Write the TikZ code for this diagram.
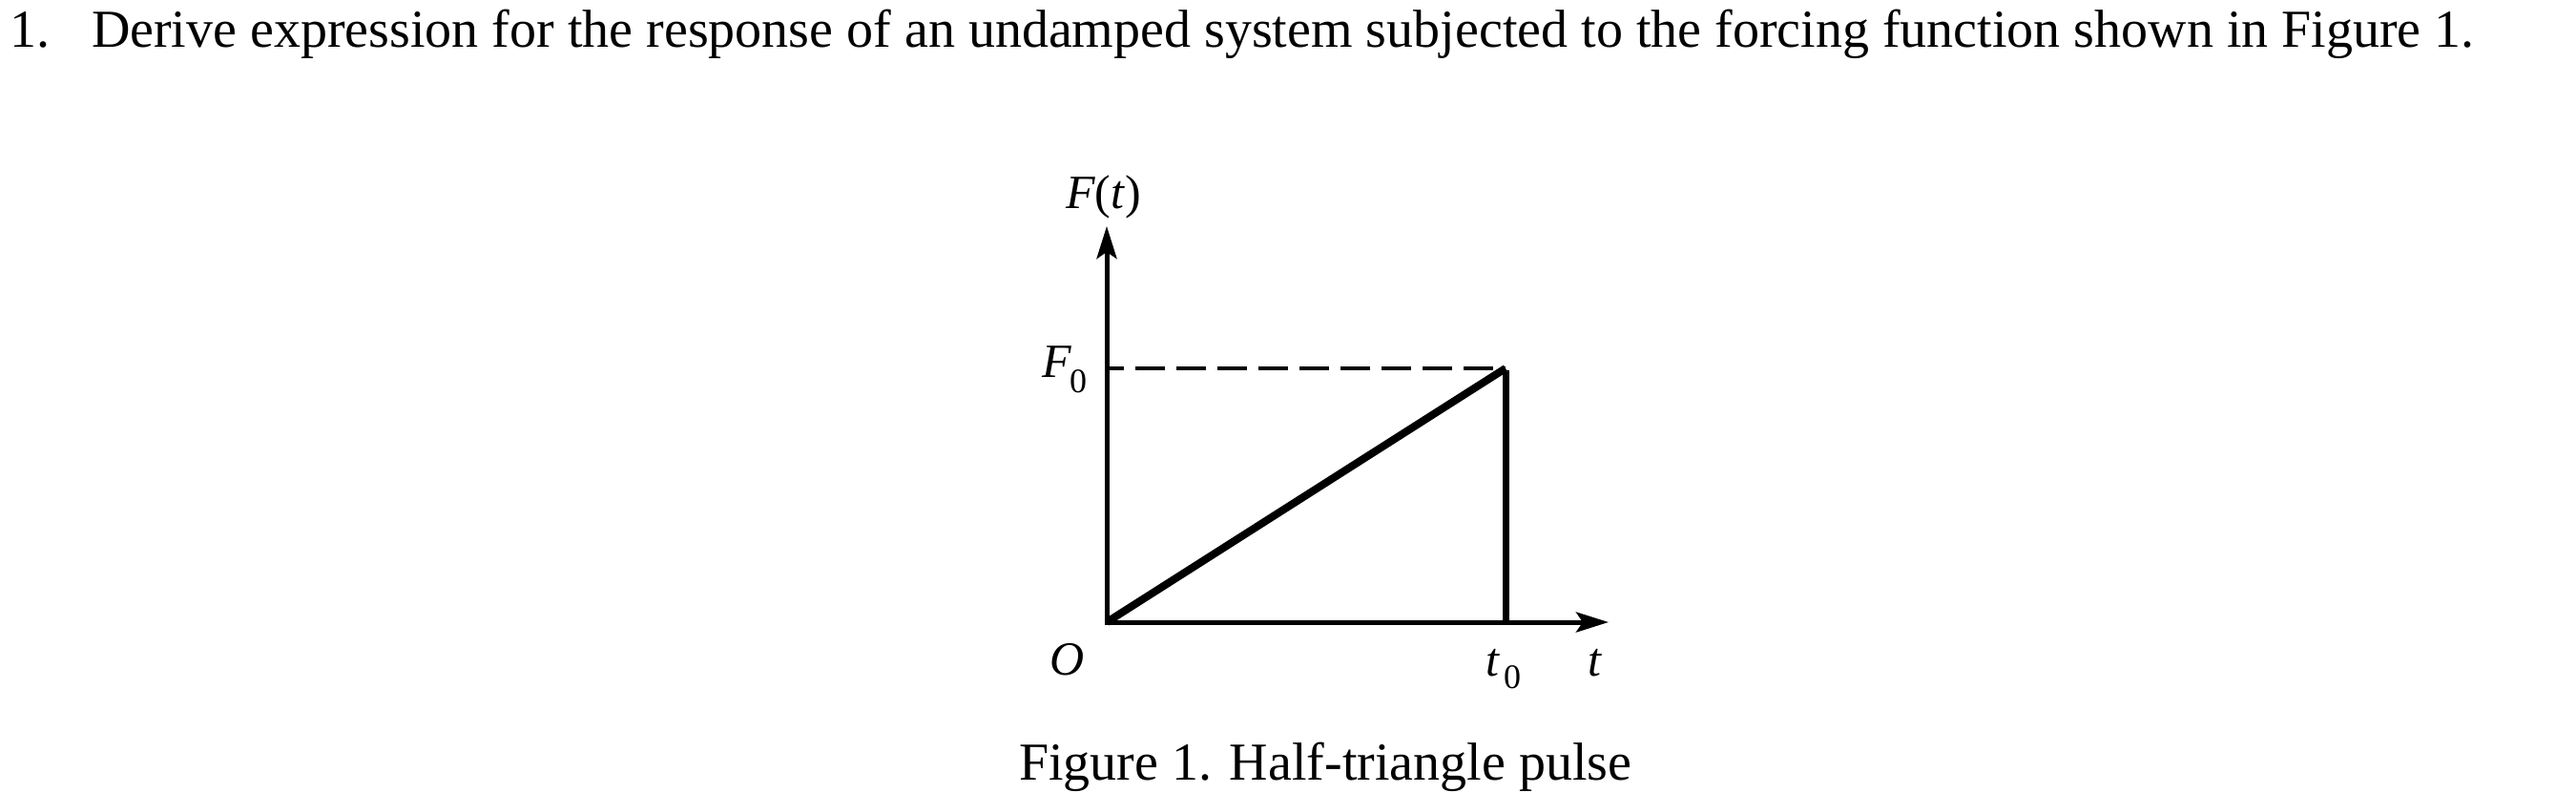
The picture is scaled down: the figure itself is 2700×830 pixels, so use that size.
\documentclass[tikz,border=0pt]{standalone}
\usepackage{fontspec}
\setmainfont{Liberation Serif}
\usetikzlibrary{arrows.meta}
\begin{document}
\begin{tikzpicture}[x=1pt,y=-1pt,
  txt/.style={inner sep=0pt,outer sep=0pt,anchor=base west,font=\fontsize{56}{62}\selectfont},
  lbl/.style={inner sep=0pt,outer sep=0pt,anchor=base west,font=\fontsize{50}{56}\selectfont},
  sub/.style={inner sep=0pt,outer sep=0pt,anchor=base west,font=\fontsize{36}{40}\selectfont},
  axis/.style={line width=5pt,-{Stealth[length=34pt,width=21pt,inset=7pt]}},
  pulse/.style={line width=8pt,line cap=butt},
  edge/.style={line width=7pt},
  guide/.style={line width=3.5pt,dash pattern=on 31pt off 12pt,dash phase=13pt}]
\useasboundingbox (0,0) rectangle (2700,830);
% question
\node[txt] (num) at (10,49) {1.};
\node[txt] (q) at (96,49) {Derive expression for the response of an undamped system subjected to the forcing function shown in Figure 1.};
% graph
\coordinate (O) at (1160,652);
\coordinate (Ytip) at (1160,237);
\coordinate (Xtip) at (1686,652);
\coordinate (Fl) at (1160,386);
\coordinate (P) at (1578,386);
\coordinate (Q) at (1578,652);
\draw[axis] (O) -- (Ytip);
\draw[axis] ([xshift=-2.5pt]O) -- (Xtip);
\draw[guide] (Fl) -- (P);
\draw[edge] ([yshift=-2pt]P) -- (Q);
\draw[pulse] (O) -- (P);
% labels
\node[lbl] (Ft) at (1117,218) {\textit{F}(\textit{t})};
\node[lbl] (F0) at (1092,395) {\textit{F}};
\node[sub] (F0s) at (1121,411) {0};
\node[lbl] (Olbl) at (1100,707) {\textit{O}};
\node[lbl] (t0) at (1557,708) {\textit{t}};
\node[sub] (t0s) at (1576,721) {0};
\node[lbl] (tl) at (1664,708) {\textit{t}};
% caption
\node[txt] (cap) at (1068,817) {Figure 1. Half-triangle pulse};
\end{tikzpicture}
\end{document}
